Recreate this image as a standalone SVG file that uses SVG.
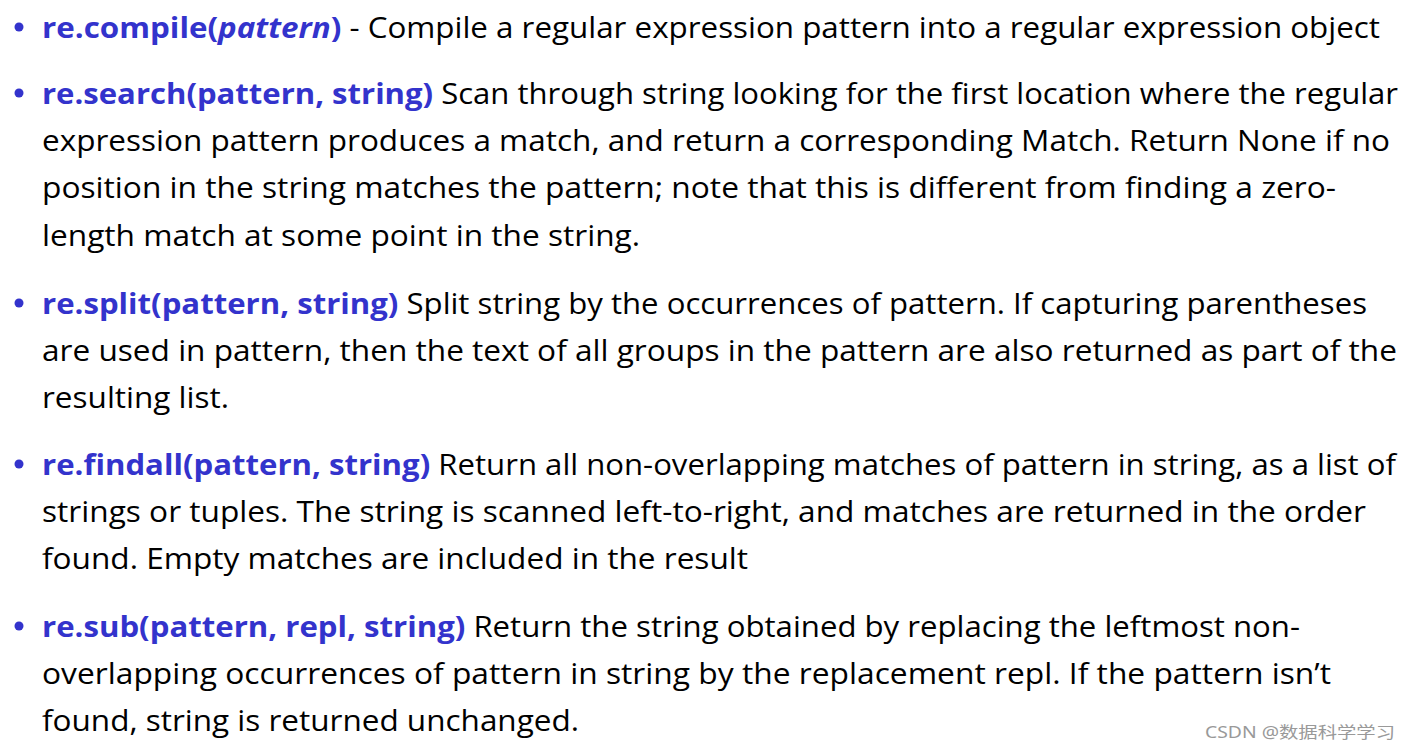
<svg xmlns="http://www.w3.org/2000/svg" width="1408" height="751" viewBox="0 0 1408 751">
<style>
text{font-family:"Open Sans","Noto Sans",sans-serif;font-size:29px;fill:#000}
.k{fill:#3333CC;font-weight:bold}
.b{fill:#3333CC}
.wm{font-family:"Noto Sans","Noto Sans CJK SC",sans-serif;font-size:16px;fill:#999}
</style>
<rect width="1408" height="751" fill="#fff"/>
<g id="bullets">
<circle class="b" cx="19" cy="27" r="4.5"/>
<circle class="b" cx="19" cy="93" r="4.5"/>
<circle class="b" cx="19" cy="303" r="4.5"/>
<circle class="b" cx="19" cy="464" r="4.5"/>
<circle class="b" cx="19" cy="626" r="4.5"/>
</g>
<g id="item1">
<text x="42" y="38" textLength="1338" lengthAdjust="spacingAndGlyphs"><tspan class="k">re.compile(</tspan><tspan class="k" font-style="italic">pattern</tspan><tspan class="k">)</tspan> - Compile a regular expression pattern into a regular expression object</text>
</g>
<g id="item2">
<text x="42" y="104" textLength="1356" lengthAdjust="spacingAndGlyphs"><tspan class="k">re.search(pattern, string)</tspan> Scan through string looking for the first location where the regular</text>
<text x="42" y="151" textLength="1348" lengthAdjust="spacingAndGlyphs">expression pattern produces a match, and return a corresponding Match. Return None if no</text>
<text x="42" y="198" textLength="1294" lengthAdjust="spacingAndGlyphs">position in the string matches the pattern; note that this is different from finding a zero-</text>
<text x="42" y="246" textLength="598" lengthAdjust="spacingAndGlyphs">length match at some point in the string.</text>
</g>
<g id="item3">
<text x="42" y="314" textLength="1325" lengthAdjust="spacingAndGlyphs"><tspan class="k">re.split(pattern, string)</tspan> Split string by the occurrences of pattern. If capturing parentheses</text>
<text x="42" y="361" textLength="1355" lengthAdjust="spacingAndGlyphs">are used in pattern, then the text of all groups in the pattern are also returned as part of the</text>
<text x="42" y="408" textLength="187" lengthAdjust="spacingAndGlyphs">resulting list.</text>
</g>
<g id="item4">
<text x="42" y="475" textLength="1354" lengthAdjust="spacingAndGlyphs"><tspan class="k">re.findall(pattern, string)</tspan> Return all non-overlapping matches of pattern in string, as a list of</text>
<text x="42" y="522" textLength="1324" lengthAdjust="spacingAndGlyphs">strings or tuples. The string is scanned left-to-right, and matches are returned in the order</text>
<text x="42" y="569" textLength="706" lengthAdjust="spacingAndGlyphs">found. Empty matches are included in the result</text>
</g>
<g id="item5">
<text x="42" y="637" textLength="1258" lengthAdjust="spacingAndGlyphs"><tspan class="k">re.sub(pattern, repl, string)</tspan> Return the string obtained by replacing the leftmost non-</text>
<text x="42" y="684" textLength="1289" lengthAdjust="spacingAndGlyphs">overlapping occurrences of pattern in string by the replacement repl. If the pattern isn’t</text>
<text x="42" y="731" textLength="537" lengthAdjust="spacingAndGlyphs">found, string is returned unchanged.</text>
</g>
<text class="wm" x="1205" y="738" textLength="190" lengthAdjust="spacingAndGlyphs">CSDN @数据科学学习</text>
</svg>
